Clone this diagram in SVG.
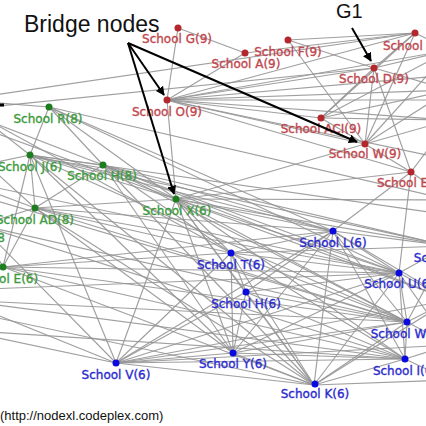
<svg xmlns="http://www.w3.org/2000/svg" width="426" height="426" viewBox="0 0 426 426">
<defs>
<style>
.e line{stroke:#959595;stroke-width:1.15;stroke-opacity:0.9}
.lbl{font-family:"DejaVu Sans",sans-serif;font-size:12px;text-anchor:middle;stroke-width:0.35}
.red circle{fill:#b3272d}.red text{fill:#c0474e;stroke:#c0474e}
.grn circle{fill:#1e7d1e}.grn text{fill:#3c9a3c;stroke:#3c9a3c}
.blu circle{fill:#0a0ae0}.blu text{fill:#2b2bcf;stroke:#2b2bcf}
.arr{stroke:#000;stroke-width:2;fill:none;marker-end:url(#ah)}
.ann{font-family:"Liberation Sans",Arial,sans-serif;fill:#111}
</style>
<marker id="ah" viewBox="0 0 10 10" refX="9" refY="5" markerWidth="4.5" markerHeight="4.5" orient="auto" markerUnits="strokeWidth"><path d="M0,0L10,5L0,10z" fill="#000"/></marker>
</defs>
<rect width="426" height="426" fill="#fff"/>
<g id="connectors" class="e">
<line x1="178" y1="28" x2="245" y2="53"/><line x1="178" y1="28" x2="167" y2="100"/>
<line x1="288" y1="40" x2="415" y2="33"/><line x1="288" y1="40" x2="374" y2="68"/><line x1="288" y1="40" x2="365" y2="144"/>
<line x1="245" y1="53" x2="415" y2="33"/><line x1="167" y1="100" x2="245" y2="53"/><line x1="167" y1="100" x2="374" y2="68"/>
<line x1="167" y1="100" x2="415" y2="33"/><line x1="167" y1="100" x2="450" y2="50"/><line x1="167" y1="100" x2="450" y2="90"/>
<line x1="167" y1="100" x2="450" y2="120"/><line x1="167" y1="100" x2="321" y2="118"/><line x1="167" y1="100" x2="365" y2="144"/>
<line x1="167" y1="100" x2="411" y2="172"/><line x1="167" y1="100" x2="176" y2="199"/><line x1="167" y1="100" x2="450" y2="160"/>
<line x1="167" y1="100" x2="450" y2="100"/><line x1="167" y1="100" x2="450" y2="75"/>
<line x1="321" y1="118" x2="374" y2="68"/><line x1="321" y1="118" x2="415" y2="33"/><line x1="321" y1="118" x2="450" y2="50"/>
<line x1="321" y1="118" x2="450" y2="90"/><line x1="321" y1="118" x2="365" y2="144"/><line x1="321" y1="118" x2="450" y2="120"/>
<line x1="374" y1="68" x2="415" y2="33"/><line x1="374" y1="68" x2="365" y2="144"/><line x1="374" y1="68" x2="450" y2="90"/>
<line x1="374" y1="68" x2="411" y2="172"/><line x1="374" y1="68" x2="450" y2="50"/>
<line x1="365" y1="144" x2="411" y2="172"/><line x1="365" y1="144" x2="450" y2="90"/><line x1="365" y1="144" x2="450" y2="120"/>
<line x1="365" y1="144" x2="415" y2="33"/><line x1="365" y1="144" x2="450" y2="50"/><line x1="365" y1="144" x2="176" y2="199"/>
<line x1="411" y1="172" x2="333" y2="231"/><line x1="411" y1="172" x2="399" y2="273"/><line x1="411" y1="172" x2="176" y2="199"/>
<line x1="411" y1="172" x2="450" y2="120"/><line x1="411" y1="172" x2="450" y2="200"/><line x1="415" y1="33" x2="450" y2="50"/>
<line x1="-40" y1="100" x2="415" y2="33"/><line x1="-40" y1="110" x2="374" y2="68"/>
<line x1="49" y1="107" x2="-40" y2="100"/><line x1="49" y1="107" x2="30" y2="155"/><line x1="49" y1="107" x2="103" y2="165"/>
<line x1="49" y1="107" x2="176" y2="199"/><line x1="30" y1="155" x2="103" y2="165"/><line x1="30" y1="157" x2="103" y2="168"/>
<line x1="30" y1="155" x2="35" y2="208"/><line x1="30" y1="155" x2="176" y2="199"/><line x1="30" y1="155" x2="-40" y2="170"/>
<line x1="103" y1="165" x2="176" y2="199"/><line x1="103" y1="165" x2="35" y2="208"/><line x1="35" y1="208" x2="176" y2="199"/>
<line x1="35" y1="208" x2="3" y2="267"/><line x1="35" y1="208" x2="-40" y2="180"/><line x1="35" y1="208" x2="-20" y2="225"/>
<line x1="30" y1="155" x2="3" y2="267"/><line x1="3" y1="267" x2="-20" y2="225"/><line x1="-40" y1="110" x2="103" y2="165"/>
<line x1="-40" y1="120" x2="176" y2="199"/><line x1="-40" y1="100" x2="30" y2="155"/><line x1="-40" y1="140" x2="35" y2="208"/>
<line x1="-40" y1="105" x2="231" y2="253"/>
<line x1="103" y1="165" x2="448" y2="246"/><line x1="30" y1="155" x2="448" y2="246"/><line x1="176" y1="199" x2="448" y2="246"/>
<line x1="176" y1="199" x2="450" y2="200"/><line x1="49" y1="107" x2="450" y2="200"/><line x1="103" y1="165" x2="450" y2="300"/>
<line x1="176" y1="199" x2="450" y2="300"/><line x1="30" y1="155" x2="450" y2="215"/>
<line x1="176" y1="199" x2="231" y2="253"/><line x1="176" y1="199" x2="333" y2="231"/><line x1="176" y1="199" x2="399" y2="273"/>
<line x1="176" y1="199" x2="246" y2="292"/><line x1="176" y1="199" x2="407" y2="322"/><line x1="176" y1="199" x2="233" y2="353"/>
<line x1="176" y1="199" x2="314" y2="385"/><line x1="176" y1="199" x2="405" y2="359"/><line x1="176" y1="199" x2="116" y2="363"/>
<line x1="30" y1="155" x2="314" y2="385"/><line x1="30" y1="155" x2="233" y2="353"/><line x1="30" y1="155" x2="116" y2="363"/>
<line x1="30" y1="155" x2="333" y2="231"/><line x1="30" y1="155" x2="407" y2="322"/>
<line x1="35" y1="208" x2="314" y2="385"/><line x1="35" y1="208" x2="231" y2="253"/><line x1="35" y1="208" x2="407" y2="322"/>
<line x1="35" y1="208" x2="233" y2="353"/><line x1="35" y1="208" x2="399" y2="273"/><line x1="35" y1="208" x2="333" y2="231"/>
<line x1="103" y1="165" x2="231" y2="253"/><line x1="103" y1="165" x2="333" y2="231"/><line x1="103" y1="165" x2="399" y2="273"/>
<line x1="103" y1="165" x2="407" y2="322"/><line x1="103" y1="165" x2="314" y2="385"/><line x1="103" y1="165" x2="233" y2="353"/>
<line x1="3" y1="267" x2="333" y2="231"/><line x1="3" y1="267" x2="399" y2="273"/><line x1="3" y1="267" x2="407" y2="322"/>
<line x1="3" y1="267" x2="405" y2="359"/><line x1="3" y1="267" x2="231" y2="253"/><line x1="3" y1="267" x2="314" y2="385"/>
<line x1="49" y1="107" x2="399" y2="273"/><line x1="49" y1="107" x2="333" y2="231"/>
<line x1="-20" y1="225" x2="405" y2="359"/><line x1="-20" y1="225" x2="407" y2="322"/><line x1="-20" y1="225" x2="116" y2="363"/>
<line x1="-40" y1="300" x2="116" y2="363"/><line x1="-40" y1="300" x2="407" y2="322"/><line x1="-40" y1="300" x2="405" y2="359"/>
<line x1="-40" y1="310" x2="314" y2="385"/><line x1="-40" y1="330" x2="116" y2="363"/><line x1="-40" y1="330" x2="405" y2="359"/>
<line x1="-40" y1="290" x2="399" y2="273"/><line x1="-40" y1="180" x2="399" y2="273"/><line x1="-40" y1="190" x2="407" y2="322"/>
<line x1="231" y1="253" x2="333" y2="231"/><line x1="231" y1="253" x2="399" y2="273"/><line x1="231" y1="253" x2="246" y2="292"/>
<line x1="231" y1="253" x2="233" y2="353"/><line x1="231" y1="253" x2="314" y2="385"/><line x1="231" y1="253" x2="407" y2="322"/>
<line x1="231" y1="253" x2="405" y2="359"/><line x1="231" y1="253" x2="116" y2="363"/><line x1="231" y1="253" x2="448" y2="246"/>
<line x1="246" y1="292" x2="233" y2="353"/><line x1="246" y1="292" x2="314" y2="385"/><line x1="246" y1="292" x2="399" y2="273"/>
<line x1="246" y1="292" x2="407" y2="322"/><line x1="246" y1="292" x2="333" y2="231"/><line x1="246" y1="292" x2="405" y2="359"/>
<line x1="246" y1="292" x2="116" y2="363"/>
<line x1="233" y1="353" x2="314" y2="385"/><line x1="233" y1="353" x2="407" y2="322"/><line x1="233" y1="353" x2="399" y2="273"/>
<line x1="233" y1="353" x2="333" y2="231"/><line x1="233" y1="353" x2="405" y2="359"/><line x1="233" y1="353" x2="116" y2="363"/>
<line x1="116" y1="363" x2="314" y2="385"/><line x1="116" y1="363" x2="407" y2="322"/><line x1="116" y1="363" x2="405" y2="359"/>
<line x1="116" y1="363" x2="399" y2="273"/><line x1="116" y1="363" x2="333" y2="231"/><line x1="116" y1="363" x2="450" y2="300"/>
<line x1="116" y1="363" x2="450" y2="345"/>
<line x1="314" y1="385" x2="407" y2="322"/><line x1="314" y1="385" x2="405" y2="359"/><line x1="314" y1="385" x2="399" y2="273"/>
<line x1="314" y1="385" x2="333" y2="231"/><line x1="314" y1="385" x2="450" y2="300"/>
<line x1="333" y1="231" x2="399" y2="273"/><line x1="333" y1="231" x2="407" y2="322"/><line x1="333" y1="231" x2="405" y2="359"/>
<line x1="333" y1="231" x2="448" y2="246"/><line x1="333" y1="231" x2="450" y2="300"/>
<line x1="399" y1="273" x2="407" y2="322"/><line x1="399" y1="273" x2="405" y2="359"/><line x1="399" y1="273" x2="448" y2="246"/>
<line x1="399" y1="273" x2="450" y2="300"/><line x1="399" y1="273" x2="450" y2="345"/>
<line x1="407" y1="322" x2="405" y2="359"/><line x1="407" y1="322" x2="450" y2="300"/><line x1="407" y1="322" x2="450" y2="345"/>
<line x1="405" y1="359" x2="450" y2="345"/><line x1="405" y1="359" x2="450" y2="380"/><line x1="314" y1="385" x2="450" y2="380"/>
<line x1="448" y1="246" x2="407" y2="322"/>
</g>
<g id="node-G" class="red"><circle cx="178" cy="28" r="3.5"/><text class="lbl" x="177" y="43">School G(9)</text></g>
<g id="node-F" class="red"><circle cx="288" cy="40" r="3.5"/><text class="lbl" x="288" y="56">School F(9)</text></g>
<g id="node-A" class="red"><circle cx="245" cy="53" r="3.5"/><text class="lbl" x="246" y="68">School A(9)</text></g>
<g id="node-O" class="red"><circle cx="167" cy="100" r="3.5"/><text class="lbl" x="167" y="116">School O(9)</text></g>
<g id="node-D" class="red"><circle cx="374" cy="68" r="3.5"/><text class="lbl" x="374" y="83">School D(9)</text></g>
<g id="node-RT" class="red"><circle cx="415" cy="33" r="3.5"/><text class="lbl" x="415" y="50">School I(9)</text></g>
<g id="node-ACI" class="red"><circle cx="321" cy="118" r="3.5"/><text class="lbl" x="321" y="133">School ACI(9)</text></g>
<g id="node-W9" class="red"><circle cx="365" cy="144" r="3.5"/><text class="lbl" x="365" y="158">School W(9)</text></g>
<g id="node-E9" class="red"><circle cx="411" cy="172" r="3.5"/><text class="lbl" x="411" y="187">School E(9)</text></g>
<g id="node-R" class="grn"><circle cx="49" cy="107" r="3.5"/><text class="lbl" x="48" y="123">School R(8)</text></g>
<g id="node-J" class="grn"><circle cx="30" cy="155" r="3.5"/><text class="lbl" x="30" y="171">School J(6)</text></g>
<g id="node-H8" class="grn"><circle cx="103" cy="165" r="3.5"/><text class="lbl" x="102" y="180">School H(8)</text></g>
<g id="node-X" class="grn"><circle cx="176" cy="199" r="3.5"/><text class="lbl" x="177" y="215">School X(6)</text></g>
<g id="node-AD" class="grn"><circle cx="35" cy="208" r="3.5"/><text class="lbl" x="35" y="224">School AD(8)</text></g>
<g id="node-E6" class="grn"><circle cx="3" cy="267" r="3.5"/><text class="lbl" x="4" y="283">School E(6)</text></g>
<g id="node-Q" class="grn"><text class="lbl" x="1" y="242">8</text></g>
<g id="node-L" class="blu"><circle cx="333" cy="231" r="3.5"/><text class="lbl" x="333" y="247">School L(6)</text></g>
<g id="node-T" class="blu"><circle cx="231" cy="253" r="3.5"/><text class="lbl" x="231" y="269">School T(6)</text></g>
<g id="node-H6" class="blu"><circle cx="246" cy="292" r="3.5"/><text class="lbl" x="246" y="308">School H(6)</text></g>
<g id="node-U" class="blu"><circle cx="399" cy="273" r="3.5"/><text class="lbl" x="399" y="288">School U(6)</text></g>
<g id="node-S" class="blu"><circle cx="448" cy="246" r="3.5"/><text class="lbl" x="448" y="262">School S(6)</text></g>
<g id="node-WB" class="blu"><circle cx="407" cy="322" r="3.5"/><text class="lbl" x="407" y="338">School W(6)</text></g>
<g id="node-I" class="blu"><circle cx="405" cy="359" r="3.5"/><text class="lbl" x="405" y="375">School I(6)</text></g>
<g id="node-Y" class="blu"><circle cx="233" cy="353" r="3.5"/><text class="lbl" x="233" y="368">School Y(6)</text></g>
<g id="node-K" class="blu"><circle cx="315" cy="384" r="3.5"/><text class="lbl" x="315" y="398">School K(6)</text></g>
<g id="node-V" class="blu"><circle cx="116" cy="363" r="3.5"/><text class="lbl" x="116" y="379">School V(6)</text></g>
<g id="annotations">
<text class="ann" x="24" y="32" font-size="23">Bridge nodes</text>
<text class="ann" x="336" y="18" font-size="20">G1</text>
<path class="arr" d="M128,43L164,95"/>
<path class="arr" d="M128,43L174,194"/>
<path class="arr" d="M128,43L357,142"/>
<path class="arr" d="M352,28L371,61"/>
<line x1="-2" y1="105" x2="4" y2="105" stroke="#000" stroke-width="3"/>
<text class="ann" x="0" y="420" font-size="13" fill="#333">(http://nodexl.codeplex.com)</text>
</g>
</svg>
